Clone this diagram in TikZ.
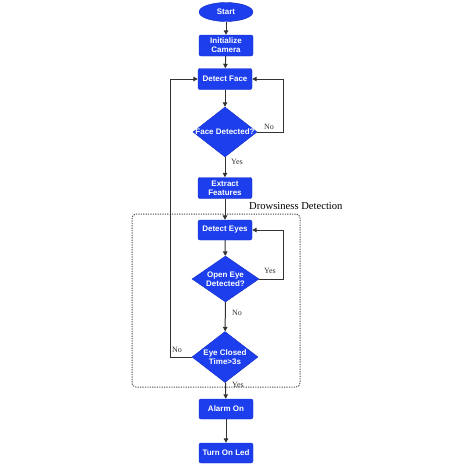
\documentclass[tikz,border=0pt]{standalone}
\usepackage{fontspec}
\setmainfont{Liberation Serif}
\newfontfamily\boxfont{Liberation Sans}
\usetikzlibrary{shapes.geometric,arrows.meta}
\definecolor{fcblue}{RGB}{28,62,236}
\definecolor{fcedge}{RGB}{20,45,200}
\definecolor{fcline}{RGB}{50,50,50}
\tikzset{
  procbox/.style={draw=fcedge, fill=fcblue, rounded corners=2pt, minimum width=54pt, minimum height=21pt,
    inner sep=0pt, align=center, text=white, font=\boxfont\bfseries\fontsize{8}{8.8}\selectfont},
  startbox/.style={draw=fcedge, fill=fcblue, ellipse, minimum width=54pt, minimum height=19pt,
    inner sep=0pt, text=white, font=\boxfont\bfseries\fontsize{8}{8.8}\selectfont},
  dia/.style={draw=fcedge, fill=fcblue, diamond, minimum width=#1, minimum height=50pt, inner sep=0pt},
  dtxt/.style={inner sep=0pt, align=center, text=white, font=\boxfont\bfseries\fontsize{8}{8.8}\selectfont},
  conn/.style={draw=fcline, line width=1pt, -{Triangle[length=4.5pt,width=4.5pt]}},
  lbl/.style={inner sep=0pt, font=\fontsize{8}{9}\selectfont, text=black!80}
}
\begin{document}
\begin{tikzpicture}[x=1pt,y=-1pt]
\useasboundingbox (0,0) rectangle (474,474);
% dashed region
\draw[dash pattern=on 1.2pt off 1.2pt, line width=1pt, draw=black!70, rounded corners=4pt] (132,214) rectangle (300,387);
\node[inner sep=0pt, font=\fontsize{10.6}{12}\selectfont, anchor=west] (dd) at (249,206) {Drowsiness Detection};

\node[startbox] (start) at (226,12) {Start};
\node[procbox] (init) at (226,45.5) {Initialize\\Camera};
\node[procbox] (face) at (225,79) {Detect Face};
\node[dia=64pt] (fd) at (225,132) {};
\node[dtxt] (fdt) at (fd) {Face Detected?};
\node[procbox] (ext) at (225,188) {Extract\\Features};
\node[procbox, minimum height=20pt] (eyes) at (225,230) {Detect Eyes};
\node[dia=67pt, minimum height=46pt] (oe) at (225.5,279) {};
\node[dtxt] (oet) at (oe) {Open Eye\\Detected?};
\node[dia=66pt, minimum height=51pt] (ec) at (225,357) {};
\node[dtxt] (ect) at (ec) {Eye Closed\\Time>3s};
\node[procbox, minimum height=20pt] (alarm) at (226,409) {Alarm On};
\node[procbox, minimum height=20pt] (led) at (226,453) {Turn On Led};

\coordinate (c1a) at (283,132);
\coordinate (c1b) at (283,79);
\coordinate (c2a) at (283,279);
\coordinate (c2b) at (283,230);
\coordinate (c3a) at (170,357);
\coordinate (c3b) at (170,79);

\draw[conn] (start) -- (init);
\draw[conn] (init) -- (face);
\draw[conn] (face) -- (fd);
\draw[conn] (fd.east) -- (c1a) -- (c1b) -- (face.east);
\draw[conn] (fd) -- (ext);
\draw[conn] (ext) -- (eyes);
\draw[conn] (eyes) -- (oe);
\draw[conn] (oe.east) -- (c2a) -- (c2b) -- (eyes.east);
\draw[conn] (oe) -- (ec);
\draw[conn] (ec.west) -- (c3a) -- (c3b) -- (face.west);
\draw[conn] (ec) -- (alarm);
\draw[conn] (alarm) -- (led);

\node[lbl] (l1) at (269,127) {No};
\node[lbl] (l2) at (237,162) {Yes};
\node[lbl] (l3) at (270,271) {Yes};
\node[lbl] (l4) at (237,313) {No};
\node[lbl] (l5) at (177,350) {No};
\node[lbl] (l6) at (238,385) {Yes};
\end{tikzpicture}
\end{document}
